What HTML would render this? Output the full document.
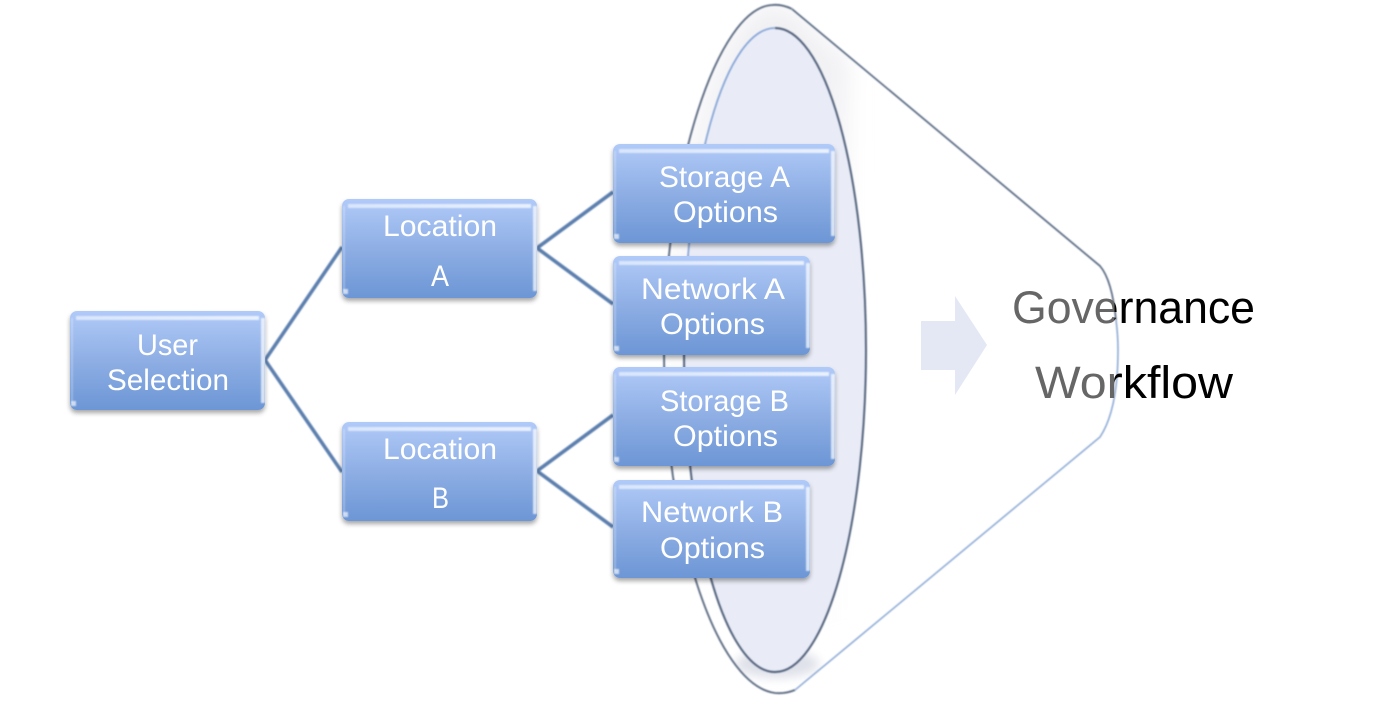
<!DOCTYPE html>
<html>
<head>
<meta charset="utf-8">
<style>
html,body{margin:0;padding:0;background:#fff;width:1391px;height:725px;overflow:hidden}
svg{display:block}
.t{font-family:"Liberation Sans",sans-serif;font-size:30px;fill:#fff;text-anchor:start}
.g{font-family:"Liberation Sans",sans-serif;font-size:45px;fill:url(#tg)}
.h{filter:url(#bl)}
</style>
</head>
<body>
<svg width="1391" height="725" viewBox="0 0 1391 725" xmlns="http://www.w3.org/2000/svg">
<defs>
<linearGradient id="b" x1="0" y1="0" x2="0" y2="1">
<stop offset="0" stop-color="#b0caf8"/><stop offset="0.5" stop-color="#8eaee4"/><stop offset="1" stop-color="#6c96d5"/>
</linearGradient>
<linearGradient id="hi" x1="0" y1="0" x2="1" y2="0">
<stop offset="0" stop-color="#fff" stop-opacity=".55"/><stop offset="1" stop-color="#fff" stop-opacity=".75"/>
</linearGradient>
<linearGradient id="tg" gradientUnits="userSpaceOnUse" x1="1000" y1="0" x2="1260" y2="0">
<stop offset="0.44" stop-color="#666"/><stop offset="0.44" stop-color="#000"/>
</linearGradient>
<linearGradient id="rim" x1="0" y1="0" x2="0" y2="1">
<stop offset="0" stop-color="#f0f0f3"/><stop offset="0.3" stop-color="#f7f7f9"/><stop offset="0.7" stop-color="#fdfdfe"/><stop offset="1" stop-color="#ffffff"/>
</linearGradient>
<clipPath id="outer">
<path d="M792,9 L1100,266 Q1118,290 1118,350 Q1118,410 1100,437 L795,690 Q785,694 775,693 C715,685 664,525 664,350 C664,170 718,8 772,5 Q782,4 792,9 Z"/>
</clipPath>
<filter id="s" x="-10%" y="-10%" width="120%" height="125%">
<feDropShadow dx="0" dy="3" stdDeviation="2.5" flood-color="#000" flood-opacity=".35"/>
</filter>
<filter id="bl" x="-20%" y="-20%" width="140%" height="140%"><feGaussianBlur stdDeviation="0.7"/></filter>
<filter id="bl2" x="-50%" y="-100%" width="200%" height="300%"><feGaussianBlur stdDeviation="5"/></filter>
<filter id="bl3" x="-30%" y="-10%" width="160%" height="120%"><feGaussianBlur stdDeviation="10"/></filter>
</defs>

<g clip-path="url(#outer)">
<path d="M792,9 L850,60 L850,640 L795,690 L775,693 C715,685 664,525 664,350 C664,170 718,8 772,5 Z" fill="url(#rim)" filter="url(#bl3)"/>
<ellipse cx="777" cy="664" rx="42" ry="14" fill="#dfe1ea" filter="url(#bl2)"/>
</g>
<path d="M792,9 L1100,266 Q1112,280 1116,320" fill="none" stroke="#4d5f7a" stroke-width="1.6" filter="url(#bl)"/>
<path d="M1116,320 Q1118,335 1118,350 Q1118,410 1100,437 L795,690" fill="none" stroke="#7e9fd0" stroke-width="1.4" filter="url(#bl)"/>
<path d="M795,690 Q785,694 775,693 C715,685 664,525 664,350 C664,170 718,8 772,5 Q782,4 792,9" fill="none" stroke="#55657d" stroke-width="1.8" filter="url(#bl)"/>
<ellipse cx="775" cy="350" rx="91" ry="322" fill="#e9ecf7" stroke="none"/>
<path d="M684,350 A91,322 0 0 1 775,28" fill="none" stroke="#7d9ed4" stroke-width="1.6" filter="url(#bl)"/>
<path d="M775,28 A91,322 0 0 1 775,672 A91,322 0 0 1 684,350" fill="none" stroke="#4b5c76" stroke-width="1.9" filter="url(#bl)"/>

<path d="M921,321 H955 V296 L987,345 L955,395 V370 H921 Z" fill="#e4e8f5"/>

<g stroke="#5c7fae" stroke-width="3.6" fill="none" filter="url(#bl)">
<path d="M342,247 L265,360 L342,472"/>
<path d="M613,192 L537,248 L613,304"/>
<path d="M613,415 L537,471 L613,527"/>
</g>

<!-- User Selection -->
<rect x="70" y="311" width="195" height="99" rx="7" fill="url(#b)" filter="url(#s)"/>
<g class="h"><rect x="76" y="316" width="183" height="4" fill="url(#hi)"/>
<rect x="261" y="318" width="4" height="85" fill="#fff" opacity=".7"/>
<rect x="71" y="318" width="2" height="85" fill="#fff" opacity=".25"/>
<rect x="71" y="401" width="5" height="5" fill="#fff" opacity=".65"/></g>
<!-- Location A -->
<rect x="342" y="199" width="195" height="99" rx="7" fill="url(#b)" filter="url(#s)"/>
<g class="h"><rect x="348" y="204" width="183" height="4" fill="url(#hi)"/>
<rect x="533" y="206" width="4" height="85" fill="#fff" opacity=".7"/>
<rect x="343" y="206" width="2" height="85" fill="#fff" opacity=".25"/>
<rect x="343" y="289" width="5" height="5" fill="#fff" opacity=".65"/></g>
<!-- Location B -->
<rect x="342" y="422" width="195" height="99" rx="7" fill="url(#b)" filter="url(#s)"/>
<g class="h"><rect x="348" y="427" width="183" height="4" fill="url(#hi)"/>
<rect x="533" y="429" width="4" height="85" fill="#fff" opacity=".7"/>
<rect x="343" y="429" width="2" height="85" fill="#fff" opacity=".25"/>
<rect x="343" y="512" width="5" height="5" fill="#fff" opacity=".65"/></g>
<!-- Storage A -->
<rect x="613" y="144" width="222" height="99" rx="7" fill="url(#b)" filter="url(#s)"/>
<g class="h"><rect x="619" y="149" width="210" height="4" fill="url(#hi)"/>
<rect x="831" y="151" width="4" height="85" fill="#fff" opacity=".7"/>
<rect x="614" y="151" width="2" height="85" fill="#fff" opacity=".25"/>
<rect x="614" y="234" width="5" height="5" fill="#fff" opacity=".65"/></g>
<!-- Network A -->
<rect x="613" y="256" width="197" height="99" rx="7" fill="url(#b)" filter="url(#s)"/>
<g class="h"><rect x="619" y="261" width="185" height="4" fill="url(#hi)"/>
<rect x="806" y="263" width="4" height="85" fill="#fff" opacity=".7"/>
<rect x="614" y="263" width="2" height="85" fill="#fff" opacity=".25"/>
<rect x="614" y="346" width="5" height="5" fill="#fff" opacity=".65"/></g>
<!-- Storage B -->
<rect x="613" y="367" width="222" height="99" rx="7" fill="url(#b)" filter="url(#s)"/>
<g class="h"><rect x="619" y="372" width="210" height="4" fill="url(#hi)"/>
<rect x="831" y="374" width="4" height="85" fill="#fff" opacity=".7"/>
<rect x="614" y="374" width="2" height="85" fill="#fff" opacity=".25"/>
<rect x="614" y="457" width="5" height="5" fill="#fff" opacity=".65"/></g>
<!-- Network B -->
<rect x="613" y="480" width="197" height="98" rx="7" fill="url(#b)" filter="url(#s)"/>
<g class="h"><rect x="619" y="485" width="185" height="4" fill="url(#hi)"/>
<rect x="806" y="487" width="4" height="84" fill="#fff" opacity=".7"/>
<rect x="614" y="487" width="2" height="84" fill="#fff" opacity=".25"/>
<rect x="614" y="569" width="5" height="5" fill="#fff" opacity=".65"/></g>

<text class="t" x="137" y="355" textLength="61" lengthAdjust="spacingAndGlyphs">User</text>
<text class="t" x="107" y="390" textLength="122" lengthAdjust="spacingAndGlyphs">Selection</text>
<text class="t" x="383" y="236" textLength="114" lengthAdjust="spacingAndGlyphs">Location</text>
<text class="t" x="431" y="286" textLength="18" lengthAdjust="spacingAndGlyphs">A</text>
<text class="t" x="383" y="459" textLength="114" lengthAdjust="spacingAndGlyphs">Location</text>
<text class="t" x="432" y="508" textLength="17" lengthAdjust="spacingAndGlyphs">B</text>
<text class="t" x="659" y="187" textLength="131" lengthAdjust="spacingAndGlyphs">Storage A</text>
<text class="t" x="673" y="222" textLength="105" lengthAdjust="spacingAndGlyphs">Options</text>
<text class="t" x="641" y="299" textLength="144" lengthAdjust="spacingAndGlyphs">Network A</text>
<text class="t" x="660" y="334" textLength="105" lengthAdjust="spacingAndGlyphs">Options</text>
<text class="t" x="660" y="411" textLength="129" lengthAdjust="spacingAndGlyphs">Storage B</text>
<text class="t" x="673" y="446" textLength="105" lengthAdjust="spacingAndGlyphs">Options</text>
<text class="t" x="641" y="522" textLength="142" lengthAdjust="spacingAndGlyphs">Network B</text>
<text class="t" x="660" y="558" textLength="105" lengthAdjust="spacingAndGlyphs">Options</text>

<text class="g" x="1012" y="323" textLength="243" lengthAdjust="spacingAndGlyphs">Governance</text>
<text class="g" x="1035" y="398" textLength="198" lengthAdjust="spacingAndGlyphs">Workflow</text>
</svg>
</body>
</html>
